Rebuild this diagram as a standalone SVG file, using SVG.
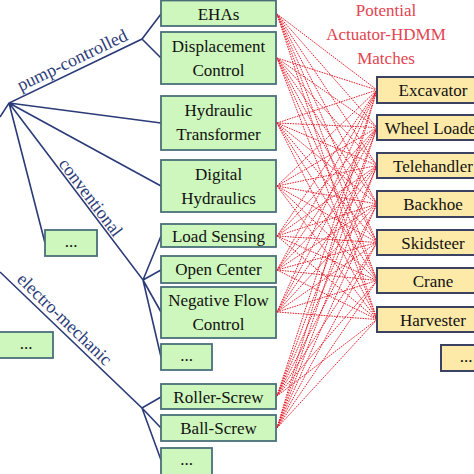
<svg xmlns="http://www.w3.org/2000/svg" width="474" height="474" viewBox="0 0 474 474">
<style>
.g rect{fill:#cdf7bc;stroke:#4a6f78;stroke-width:1.8}
.y rect{fill:#fde9a8;stroke:#3a4163;stroke-width:2}
text{font-family:"Liberation Serif","Times New Roman","DejaVu Serif",serif;font-size:17px;fill:#111}
.c{text-anchor:middle}
.br{fill:none;stroke:#2b3b78;stroke-width:1.6}
.bl{font-size:18px;fill:#2b3b78;text-anchor:middle}
.red{fill:none;stroke:#e61e2a;stroke-width:1;stroke-dasharray:1.6 1}
.t{fill:#e2434f;text-anchor:middle}
</style>
<rect width="474" height="474" fill="#fff"/>
<g id="connectors">
<path class="br" d="M0,117 L9,103 L142,39 L161,14 M142,39 L161,58 M9,103 L161,123 M9,103 L161,186 M9,103 L45,243 M9,103 L143,280 L161,236 M143,280 L161,270 M143,280 L161,312 M143,280 L161,357 M0,272 L142,408 L161,397 M142,408 L161,428 M142,408 L161,460"/>
<g class="red">
<path d="M277,14 L377,90 M277,14 L377,127.5 M277,14 L377,165.5 M277,14 L377,204 M277,14 L377,242.5 M277,14 L377,280.5 M277,14 L377,319.5"/>
<path d="M277,58 L377,90 M277,58 L377,127.5 M277,58 L377,165.5 M277,58 L377,204 M277,58 L377,242.5 M277,58 L377,280.5 M277,58 L377,319.5"/>
<path d="M277,123 L377,90 M277,123 L377,127.5 M277,123 L377,165.5 M277,123 L377,204 M277,123 L377,242.5 M277,123 L377,280.5 M277,123 L377,319.5"/>
<path d="M277,186 L377,90 M277,186 L377,127.5 M277,186 L377,165.5 M277,186 L377,204 M277,186 L377,242.5 M277,186 L377,280.5 M277,186 L377,319.5"/>
<path d="M277,236 L377,90 M277,236 L377,127.5 M277,236 L377,165.5 M277,236 L377,204 M277,236 L377,242.5 M277,236 L377,280.5 M277,236 L377,319.5"/>
<path d="M277,270 L377,90 M277,270 L377,127.5 M277,270 L377,165.5 M277,270 L377,204 M277,270 L377,242.5 M277,270 L377,280.5 M277,270 L377,319.5"/>
<path d="M277,312 L377,90 M277,312 L377,127.5 M277,312 L377,165.5 M277,312 L377,204 M277,312 L377,242.5 M277,312 L377,280.5 M277,312 L377,319.5"/>
<path d="M277,396 L377,90 M277,396 L377,127.5 M277,396 L377,165.5 M277,396 L377,204 M277,396 L377,242.5 M277,396 L377,280.5 M277,396 L377,319.5"/>
<path d="M277,428 L377,90 M277,428 L377,127.5 M277,428 L377,165.5 M277,428 L377,204 M277,428 L377,242.5 M277,428 L377,280.5 M277,428 L377,319.5"/>
</g>
</g>
<g id="branch-labels">
<text class="bl" transform="translate(74.7,65.5) rotate(-25.7)">pump-controlled</text>
<text class="bl" transform="translate(86,201) rotate(52.9)">conventional</text>
<text class="bl" transform="translate(60.5,323.6) rotate(44)">electro-mechanic</text>
</g>
<g id="title">
<text class="t" x="386" y="16">Potential</text>
<text class="t" x="386" y="40">Actuator-HDMM</text>
<text class="t" x="386" y="64">Matches</text>
</g>
<g id="ehas" class="g"><rect x="161" y="0.5" width="115" height="25.5"/><text class="c" x="218.5" y="20">EHAs</text></g>
<g id="displacement-control" class="g"><rect x="161" y="32" width="115" height="52"/><text class="c" x="218.5" y="52">Displacement</text><text class="c" x="218.5" y="76">Control</text></g>
<g id="hydraulic-transformer" class="g"><rect x="161" y="96" width="115" height="54"/><text class="c" x="218.5" y="116">Hydraulic</text><text class="c" x="218.5" y="140">Transformer</text></g>
<g id="digital-hydraulics" class="g"><rect x="161" y="160" width="115" height="52"/><text class="c" x="218.5" y="180">Digital</text><text class="c" x="218.5" y="204">Hydraulics</text></g>
<g id="load-sensing" class="g"><rect x="161" y="224" width="115" height="23"/><text class="c" x="218.5" y="242">Load Sensing</text></g>
<g id="open-center" class="g"><rect x="161" y="256" width="115" height="27"/><text class="c" x="218.5" y="275">Open Center</text></g>
<g id="negative-flow-control" class="g"><rect x="161" y="287" width="115" height="51"/><text class="c" x="218.5" y="306">Negative Flow</text><text class="c" x="218.5" y="330">Control</text></g>
<g id="conv-more" class="g"><rect x="161" y="344" width="51" height="26"/><text class="c" x="186.5" y="361">...</text></g>
<g id="roller-screw" class="g"><rect x="161" y="384" width="115" height="25"/><text class="c" x="218.5" y="403">Roller-Screw</text></g>
<g id="ball-screw" class="g"><rect x="161" y="415" width="115" height="26"/><text class="c" x="218.5" y="434">Ball-Screw</text></g>
<g id="em-more" class="g"><rect x="161" y="448" width="51" height="30"/><text class="c" x="186.5" y="465">...</text></g>
<g id="pump-more" class="g"><rect x="45" y="230" width="52" height="26"/><text class="c" x="71" y="247">...</text></g>
<g id="left-more" class="g"><rect x="-2" y="332" width="55" height="26"/><text class="c" x="26" y="349">...</text></g>
<g id="excavator" class="y"><rect x="377" y="77" width="115" height="26"/><text class="c" x="433" y="96">Excavator</text></g>
<g id="wheel-loader" class="y"><rect x="377" y="115" width="115" height="25"/><text class="c" x="433" y="134">Wheel Loader</text></g>
<g id="telehandler" class="y"><rect x="377" y="153" width="115" height="25"/><text class="c" x="433" y="172">Telehandler</text></g>
<g id="backhoe" class="y"><rect x="377" y="191" width="115" height="26"/><text class="c" x="433" y="210">Backhoe</text></g>
<g id="skidsteer" class="y"><rect x="377" y="230" width="115" height="25"/><text class="c" x="433" y="249">Skidsteer</text></g>
<g id="crane" class="y"><rect x="377" y="268" width="115" height="25"/><text class="c" x="433" y="287">Crane</text></g>
<g id="harvester" class="y"><rect x="377" y="307" width="115" height="25"/><text class="c" x="433" y="326">Harvester</text></g>
<g id="machines-more" class="y"><rect x="441" y="345" width="50" height="26"/><text class="c" x="466" y="362">...</text></g>
</svg>
